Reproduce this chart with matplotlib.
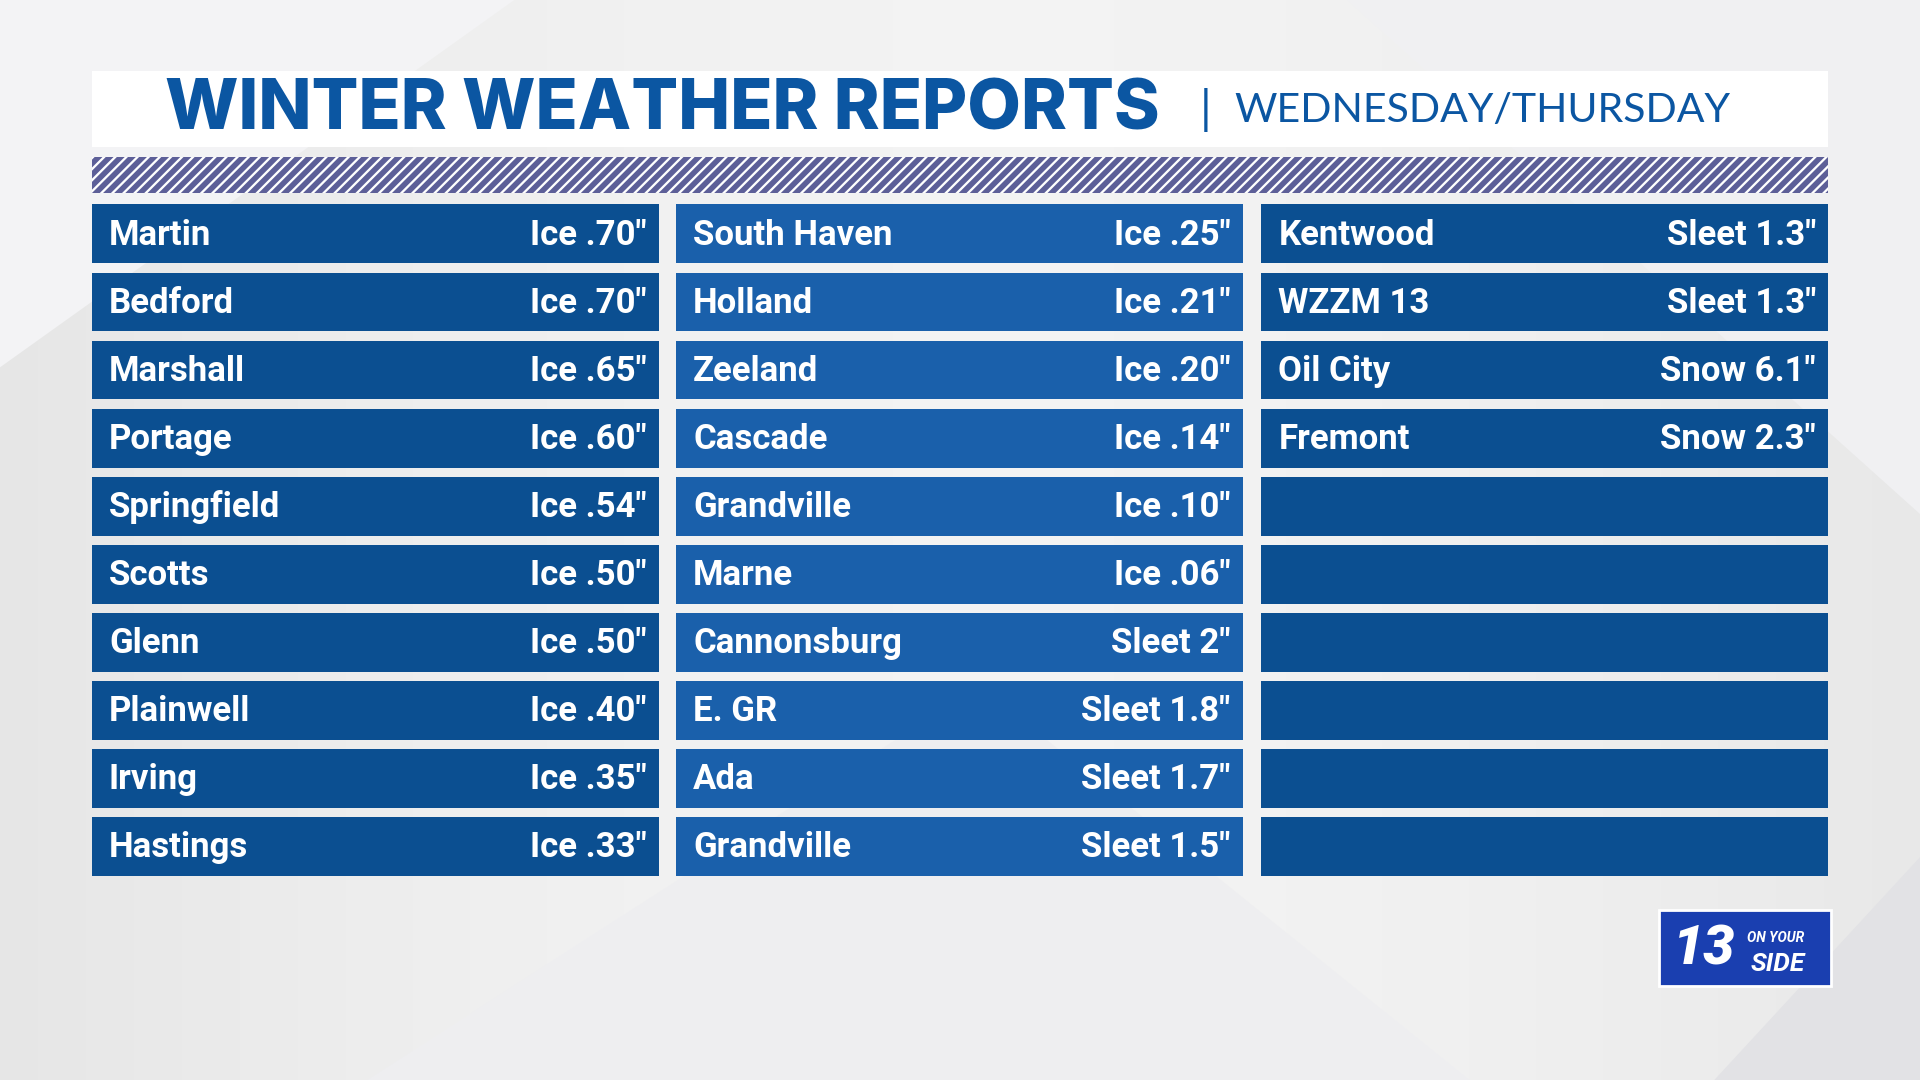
import matplotlib
matplotlib.use("Agg")
import matplotlib.pyplot as plt
from matplotlib.patches import Rectangle, Polygon
import numpy as np

col1_names = ["Martin","Bedford","Marshall","Portage","Springfield","Scotts","Glenn","Plainwell","Irving","Hastings"]
col1_vals = ['Ice .70"','Ice .70"','Ice .65"','Ice .60"','Ice .54"','Ice .50"','Ice .50"','Ice .40"','Ice .35"','Ice .33"']
col2_names = ["South Haven","Holland","Zeeland","Cascade","Grandville","Marne","Cannonsburg","E. GR","Ada","Grandville"]
col2_vals = ['Ice .25"','Ice .21"','Ice .20"','Ice .14"','Ice .10"','Ice .06"','Sleet 2"','Sleet 1.8"','Sleet 1.7"','Sleet 1.5"']
col3_names = ["Kentwood","WZZM 13","Oil City","Fremont","","","","","",""]
col3_vals = ['Sleet 1.3"','Sleet 1.3"','Snow 6.1"','Snow 2.3"',"","","","","",""]
columns = [(col1_names, col1_vals), (col2_names, col2_vals), (col3_names, col3_vals)]
title = "WINTER WEATHER REPORTS"
subtitle = "WEDNESDAY/THURSDAY"

plt.rcParams['hatch.linewidth'] = 4.0
W, H = 1568, 882
fig = plt.figure(figsize=(19.2, 10.8), dpi=100)
ax = fig.add_axes([0, 0, 1, 1])
ax.set_xlim(0, W); ax.set_ylim(H, 0); ax.axis("off")

# background
g = np.linspace(0, 1, 200)[None, :]
ax.imshow(0.90 + 0.05*np.sin(g*3), cmap="gray", vmin=0, vmax=1, extent=[0, W, H, 0], aspect="auto", zorder=0)
for pts, c in [([(0,0),(420,0),(0,300)], "#f3f3f5"), ([(1100,0),(1568,0),(1568,420)], "#f0f0f2"),
               ([(300,882),(800,560),(1200,882)], "#eeeef0"), ([(1400,882),(1568,700),(1568,882)], "#e2e2e5")]:
    ax.add_patch(Polygon(pts, closed=True, fc=c, ec="none", zorder=0.5))

# header
ax.add_patch(Rectangle((75, 58), 1418, 62, fc="white", ec="none", zorder=1))
ax.text(135, 91, title, color="#0b56a2", fontsize=50, fontfamily="Inter", fontweight="heavy", va="center", ha="left", zorder=2)
ax.text(985, 90, "|", color="#0b56a2", fontsize=34, fontfamily="Lato", va="center", ha="center", zorder=2)
ax.text(1008, 90, subtitle, color="#0b56a2", fontsize=29.5, fontfamily="Lato", va="center", ha="left", zorder=2)
ax.add_patch(Rectangle((75, 128), 1418, 30, fc="white", ec="#5d5f98", hatch="///", lw=0, zorder=1))

# rows
lefts = [75, 552, 1030]
cw = 463
row0, step, rh = 167, 55.6, 48
colors = ["#0b4f91", "#1a60ab", "#0b4f91"]
for ci, (names, vals) in enumerate(columns):
    ys = [row0 + i*step + rh/2 for i in range(len(names))]
    ax.barh(ys, [cw]*len(names), left=lefts[ci], height=rh, color=colors[ci], zorder=2)
    for y, n, v in zip(ys, names, vals):
        ax.text(lefts[ci]+14, y+1, n, color="white", fontsize=25, fontfamily="Roboto", fontweight="bold", va="center", zorder=3)
        ax.text(lefts[ci]+cw-10, y+1, v, color="white", fontsize=25, fontfamily="Roboto", fontweight="bold", va="center", ha="right", zorder=3)

# logo
ax.add_patch(Rectangle((1355, 743), 140, 62, fc="#1a3fb0", ec="white", lw=2, zorder=2))
ax.text(1392, 775, "13", color="white", fontsize=40, fontfamily="Roboto", fontweight="black", style="italic", va="center", ha="center", zorder=3)
ax.text(1450, 766, "ON YOUR", color="white", fontsize=10, fontfamily="Roboto", fontweight="bold", style="italic", va="center", ha="center", zorder=3)
ax.text(1452, 787, "SIDE", color="white", fontsize=19, fontfamily="Roboto", fontweight="bold", style="italic", va="center", ha="center", zorder=3)

fig.savefig("out.png", dpi=100)
